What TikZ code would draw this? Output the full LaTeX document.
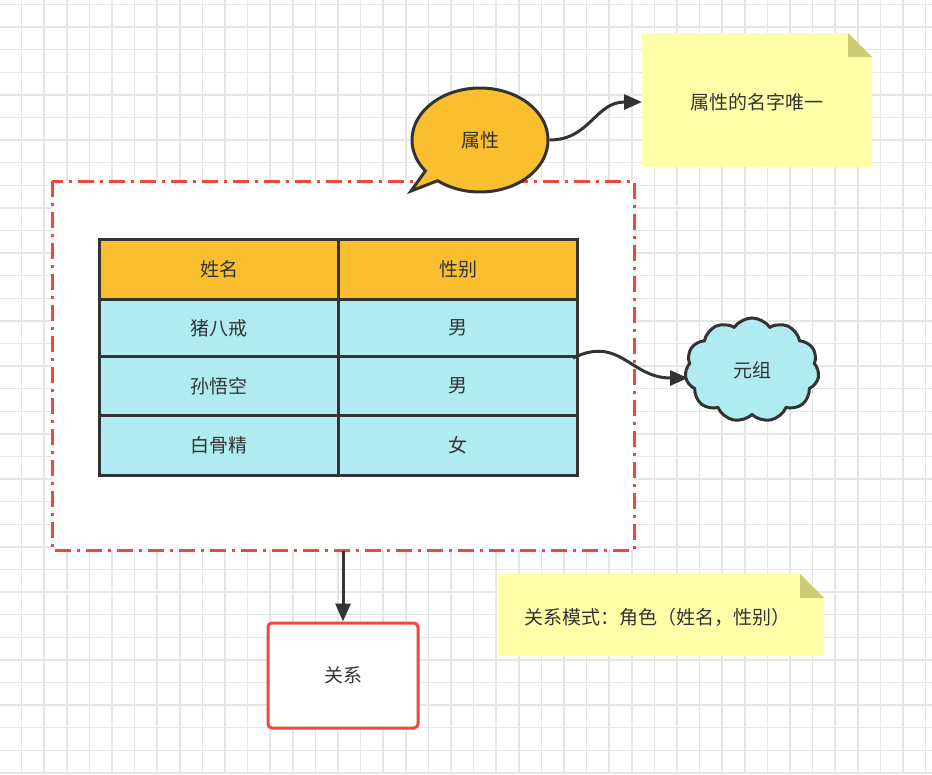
\documentclass[tikz,border=0pt]{standalone}
\usepackage{fontspec}
\setmainfont{Noto Sans CJK SC}
\usetikzlibrary{shapes.symbols,shapes.callouts,arrows.meta}
\definecolor{ink}{HTML}{333333}
\definecolor{hdr}{HTML}{F9BF2F}
\definecolor{cell}{HTML}{B0EBF2}
\definecolor{redl}{HTML}{EA4A3D}
\definecolor{notey}{HTML}{FFFFAA}
\definecolor{notef}{HTML}{CCCC77}
\definecolor{gridc}{HTML}{E6E6E6}
\begin{document}
\begin{tikzpicture}[x=1pt,y=-1pt,
  every node/.style={font=\fontsize{19}{22}\selectfont, text=ink},
  cellst/.style={draw=ink,line width=3pt,minimum width=239pt,anchor=north west,inner sep=0pt},
  conn/.style={draw=ink,line width=3pt,-{Triangle[length=18pt,width=15pt]}},
  note/.style={fill=notey}]
\useasboundingbox (0,0) rectangle (932,774);
\fill[white] (0,0) rectangle (932,774);
\foreach \i in {0,...,41} \draw[gridc,line width=1.5pt] ({\i*22.6-1},0) -- ({\i*22.6-1},774);
\foreach \i in {0,...,34} \draw[gridc,line width=1.5pt] (0,{\i*22.6+4.5}) -- (932,{\i*22.6+4.5});
% dashed frame
\fill[white] (52,181) rectangle (634,550);
\draw[redl,line width=3pt,dash pattern=on 16pt off 6pt on 3pt off 6pt] (52,181) rectangle (634,550);
% table
\node[cellst,fill=hdr,minimum height=60pt] (h1) at (98,238) {姓名};
\node[cellst,fill=hdr,minimum height=60pt] (h2) at (337,238) {性别};
\node[cellst,fill=cell,minimum height=57pt] (a1) at (98,298) {猪八戒};
\node[cellst,fill=cell,minimum height=57pt] (a2) at (337,298) {男};
\node[cellst,fill=cell,minimum height=59pt] (b1) at (98,355) {孙悟空};
\node[cellst,fill=cell,minimum height=59pt] (b2) at (337,355) {男};
\node[cellst,fill=cell,minimum height=60pt] (c1) at (98,414) {白骨精};
\node[cellst,fill=cell,minimum height=60pt] (c2) at (337,414) {女};
% callout
\node[ellipse callout,draw=ink,fill=hdr,line width=3pt,minimum width=136pt,minimum height=104pt,
  inner sep=0pt,callout absolute pointer={(411,191)}] (attr) at (480,140) {属性};
% note 1
\fill[note] (642,33) -- (848,33) -- (872,57) -- (872,167) -- (642,167) -- cycle;
\fill[notef] (848,33) -- (872,57) -- (848,57) -- cycle;
\node (n1) at (757,102) {属性的名字唯一};
\coordinate (n1w) at (642,102);
\draw[conn] (attr.east) .. controls (590,140) and (595,102) .. (n1w);
% cloud
\node[cloud,cloud puffs=11,cloud puff arc=110,aspect=1.3,draw=ink,fill=cell,line width=3pt,
  minimum width=134pt,minimum height=104pt,inner sep=0pt] (tup) at (752,370) {元组};
\coordinate (tupw) at (688,378);
\draw[conn] (a2.south east) ++(-6,0) .. controls (620,335) and (630,378) .. (tupw);
% relation
\node[draw=redl,fill=white,line width=3pt,rounded corners=4pt,minimum width=150pt,minimum height=105pt] (rel) at (343,675.5) {关系};
\coordinate (fb) at (343,551);
\draw[conn] (fb) -- (rel.north);
% note 2
\fill[note] (498,574) -- (800,574) -- (824,598) -- (824,656) -- (498,656) -- cycle;
\fill[notef] (800,574) -- (824,598) -- (800,598) -- cycle;
\node (n2) at (657,617) {关系模式：角色（姓名，性别）};
\end{tikzpicture}
\end{document}
